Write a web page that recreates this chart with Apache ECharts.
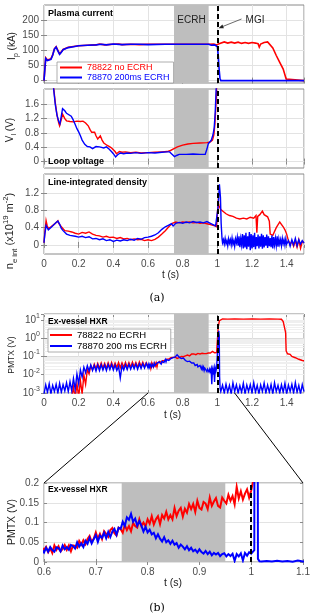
<!DOCTYPE html>
<html><head><meta charset="utf-8">
<script src="https://cdn.jsdelivr.net/npm/echarts@6/dist/echarts.min.js"></script>
<style>html,body{margin:0;padding:0;background:#fff}#c{width:315px;height:615px}</style>
</head><body><div id="c"></div>
<script>
// ---------- DATA ----------
const N_RED = '78822 no ECRH';
const N_BLUE_A = '78870 200ms ECRH';
const N_BLUE_B = '78870 200 ms ECRH';
const ecrhWindow = [0.75, 0.95];
const mgiTime = 1.0;

const ipTicks = [0, 50, 100, 150, 200];
const vlTicks = [0, 0.4, 0.8, 1.2, 1.6];
const neTicks = [0, 0.4, 0.8, 1.2];

// Plasma current (kA)
const ipRed = [[0,0],[0.005,40],[0.01,75],[0.02,68],[0.03,65],[0.04,72],[0.05,85],[0.06,105],[0.07,112],[0.08,100],[0.09,88],[0.1,95],[0.11,103],[0.12,106],[0.14,110],[0.17,113],[0.2,115],[0.25,117],[0.3,118],[0.32,121],[0.35,118],[0.4,120],[0.43,121],[0.45,119],[0.5,120],[0.55,119],[0.6,120],[0.7,120],[0.8,120],[0.9,120],[0.95,120],[0.98,121],[0.995,118],[1.0,112],[1.01,122],[1.02,127],[1.04,128],[1.06,124],[1.08,127],[1.1,124],[1.12,127],[1.14,123],[1.16,126],[1.18,123],[1.2,126],[1.22,124],[1.235,122],[1.242,111],[1.25,121],[1.27,126],[1.29,128],[1.30,131],[1.32,108],[1.34,83],[1.36,60],[1.38,38],[1.397,5],[1.40,0],[1.5,0]];
const ipBlue = [[0,0],[0.005,38],[0.01,73],[0.02,66],[0.03,64],[0.04,70],[0.05,84],[0.06,104],[0.07,111],[0.08,98],[0.09,87],[0.1,94],[0.11,102],[0.12,105],[0.14,109],[0.17,112],[0.2,115],[0.25,117],[0.3,118],[0.33,120],[0.36,118],[0.4,121],[0.45,119],[0.5,120],[0.55,120],[0.6,119],[0.7,120],[0.8,120],[0.9,120],[0.95,120],[0.965,117],[0.975,114],[0.985,118],[0.995,117],[1.0,112],[1.005,85],[1.01,40],[1.015,8],[1.02,0],[1.5,0]];

// Loop voltage (V)
const vlRed = [[0.03,3.2],[0.045,2.55],[0.055,2.1],[0.065,1.65],[0.075,1.3],[0.085,1.08],[0.09,1.0],[0.095,1.05],[0.1,1.18],[0.107,1.33],[0.113,1.3],[0.12,1.2],[0.13,1.14],[0.15,1.12],[0.17,1.11],[0.19,1.13],[0.21,1.12],[0.225,1.13],[0.24,1.08],[0.255,1.0],[0.265,0.9],[0.275,0.82],[0.285,0.78],[0.292,0.82],[0.3,0.72],[0.31,0.63],[0.318,0.68],[0.325,0.72],[0.335,0.6],[0.345,0.52],[0.355,0.49],[0.365,0.45],[0.378,0.42],[0.39,0.38],[0.4,0.33],[0.41,0.28],[0.418,0.22],[0.425,0.27],[0.435,0.28],[0.45,0.26],[0.47,0.27],[0.5,0.25],[0.53,0.26],[0.56,0.24],[0.6,0.25],[0.64,0.26],[0.68,0.27],[0.71,0.28],[0.73,0.31],[0.75,0.36],[0.77,0.41],[0.8,0.46],[0.83,0.49],[0.86,0.51],[0.9,0.52],[0.94,0.53],[0.96,0.55],[0.972,0.6],[0.98,0.75],[0.986,1.05],[0.99,1.4],[0.995,1.9],[1.0,2.6]];
const vlBlue = [[0.03,3.1],[0.045,2.5],[0.055,2.05],[0.065,1.6],[0.075,1.3],[0.085,1.12],[0.092,1.06],[0.1,1.28],[0.107,1.48],[0.112,1.5],[0.12,1.42],[0.13,1.35],[0.14,1.3],[0.157,1.27],[0.167,1.18],[0.177,1.07],[0.19,0.92],[0.2,0.83],[0.21,0.72],[0.22,0.6],[0.235,0.48],[0.25,0.42],[0.265,0.41],[0.28,0.36],[0.29,0.38],[0.3,0.42],[0.31,0.47],[0.32,0.41],[0.33,0.37],[0.345,0.38],[0.36,0.41],[0.375,0.35],[0.389,0.28],[0.4,0.22],[0.413,0.13],[0.425,0.19],[0.44,0.24],[0.46,0.22],[0.48,0.24],[0.5,0.23],[0.53,0.25],[0.56,0.23],[0.6,0.25],[0.64,0.24],[0.68,0.26],[0.71,0.27],[0.725,0.27],[0.74,0.2],[0.753,0.14],[0.765,0.17],[0.78,0.2],[0.82,0.2],[0.86,0.21],[0.9,0.2],[0.93,0.2],[0.94,0.35],[0.948,0.5],[0.965,0.6],[0.975,0.75],[0.982,0.95],[0.988,1.4],[0.993,2.0],[0.998,2.8]];

// Line-integrated density (1e19 m^-2)
const neRed = [[0,0.05],[0.005,0.3],[0.012,0.56],[0.018,0.45],[0.025,0.38],[0.03,0.35],[0.04,0.42],[0.05,0.45],[0.06,0.48],[0.07,0.52],[0.08,0.56],[0.085,0.5],[0.09,0.52],[0.1,0.42],[0.11,0.38],[0.12,0.33],[0.13,0.3],[0.14,0.32],[0.15,0.28],[0.16,0.3],[0.18,0.27],[0.2,0.25],[0.22,0.29],[0.24,0.27],[0.26,0.3],[0.28,0.25],[0.3,0.22],[0.32,0.21],[0.34,0.18],[0.36,0.2],[0.38,0.17],[0.4,0.18],[0.42,0.15],[0.44,0.17],[0.46,0.14],[0.48,0.15],[0.5,0.12],[0.52,0.14],[0.54,0.12],[0.56,0.13],[0.58,0.1],[0.6,0.12],[0.62,0.1],[0.64,0.13],[0.66,0.18],[0.68,0.25],[0.7,0.33],[0.72,0.42],[0.74,0.5],[0.76,0.53],[0.78,0.51],[0.8,0.53],[0.82,0.52],[0.84,0.53],[0.86,0.51],[0.88,0.52],[0.9,0.5],[0.92,0.51],[0.94,0.49],[0.96,0.47],[0.98,0.45],[0.995,0.42],[1.0,0.45],[1.005,0.98],[1.01,0.9],[1.02,0.82],[1.03,0.78],[1.05,0.72],[1.07,0.68],[1.09,0.66],[1.11,0.62],[1.13,0.6],[1.15,0.62],[1.17,0.6],[1.19,0.64],[1.21,0.62],[1.223,0.68],[1.228,0.28],[1.233,0.66],[1.245,0.7],[1.26,0.78],[1.27,0.7],[1.28,0.74],[1.29,0.65],[1.3,0.55],[1.305,0.25],[1.32,0.22],[1.34,0.4],[1.36,0.53],[1.37,0.5],[1.38,0.42],[1.39,0.35],[1.4,0.25],[1.41,0.1],[1.42,0.02],[1.43,0.08],[1.44,-0.03],[1.45,0.1],[1.46,-0.05],[1.47,0.12],[1.48,-0.08],[1.49,0.08],[1.5,0.05]];
const neBlue = [[0,0.05],[0.005,0.25],[0.012,0.45],[0.018,0.42],[0.025,0.35],[0.035,0.38],[0.045,0.42],[0.055,0.45],[0.065,0.5],[0.075,0.52],[0.08,0.55],[0.09,0.48],[0.1,0.38],[0.11,0.33],[0.12,0.3],[0.13,0.25],[0.14,0.27],[0.15,0.22],[0.16,0.24],[0.18,0.2],[0.2,0.18],[0.22,0.2],[0.24,0.17],[0.26,0.19],[0.28,0.14],[0.3,0.15],[0.32,0.12],[0.34,0.14],[0.36,0.1],[0.38,0.12],[0.4,0.08],[0.42,0.11],[0.44,0.09],[0.46,0.12],[0.48,0.1],[0.5,0.13],[0.52,0.11],[0.54,0.15],[0.56,0.13],[0.58,0.17],[0.6,0.18],[0.62,0.2],[0.64,0.23],[0.66,0.28],[0.68,0.36],[0.7,0.42],[0.72,0.46],[0.735,0.49],[0.745,0.44],[0.76,0.5],[0.78,0.52],[0.8,0.5],[0.82,0.53],[0.84,0.51],[0.86,0.54],[0.88,0.52],[0.9,0.53],[0.92,0.51],[0.94,0.54],[0.96,0.5],[0.975,0.47],[0.99,0.44],[1.0,0.43],[1.005,0.9],[1.012,1.4],[1.018,1.1],[1.022,0.5],[1.027,0.15],[1.03,0.05],[1.035,0.12],[1.04,0.02],[1.045,0.15],[1.05,0.03],[1.055,0.1],[1.06,-0.02],[1.065,0.14],[1.07,0.04],[1.075,0.12],[1.08,0.0],[1.085,0.16],[1.09,0.02],[1.095,0.1],[1.1,-0.03],[1.105,0.14],[1.11,0.05],[1.115,0.18],[1.12,-0.02],[1.125,0.2],[1.13,-0.05],[1.135,0.15],[1.14,0.0],[1.145,0.25],[1.15,-0.08],[1.155,0.22],[1.16,-0.06],[1.165,0.28],[1.17,-0.1],[1.175,0.2],[1.18,-0.04],[1.185,0.3],[1.19,-0.12],[1.195,0.25],[1.2,-0.08],[1.205,0.22],[1.21,-0.05],[1.215,0.28],[1.22,-0.1],[1.225,0.18],[1.23,-0.03],[1.235,0.24],[1.24,-0.08],[1.245,0.2],[1.25,-0.04],[1.255,0.26],[1.26,-0.09],[1.265,0.22],[1.27,-0.06],[1.275,0.18],[1.28,-0.02],[1.285,0.24],[1.29,-0.07],[1.295,0.2],[1.3,-0.03],[1.305,0.16],[1.31,-0.05],[1.315,0.22],[1.32,-0.08],[1.325,0.18],[1.33,0.0],[1.335,0.15],[1.34,-0.02],[1.345,0.2],[1.35,-0.04],[1.355,0.14],[1.36,0.02],[1.365,0.12],[1.37,-0.02],[1.375,0.15],[1.38,0.03],[1.385,0.12],[1.39,-0.01],[1.395,0.14],[1.4,0.02],[1.41,0.1],[1.42,-0.03],[1.43,0.12],[1.44,0.0],[1.45,0.15],[1.46,-0.02],[1.47,0.12],[1.48,0.02],[1.49,0.1],[1.5,0.04]];

// Ex-vessel HXR, PMTX (V): 0..0.6 every 0.01 s
const hxrRedEarly = [0.0004,0.0006,0.0004,0.0005,0.0004,0.0006,0.0004,0.0005,0.0004,0.0006,0.0004,0.0005,0.0004,0.0006,0.0004,0.0005,
 0.0006,0.0021,0.0005,0.0032,0.0006,0.0048,0.0009,0.0095,0.0030,0.019,0.011,0.031,0.019,0.038,0.021,0.041,0.022,0.044,0.023,0.042,0.022,0.045,0.024,0.046,0.023,0.044,0.025,0.047,0.024,0.045,0.026,0.048,0.025,0.046,0.026,0.049,0.027,0.047,0.026,0.050,0.028,0.048,0.027,0.046,0.030];
const hxrBlueEarly = [0.0009,0.0028,0.0011,0.0032,0.0009,0.0026,0.0012,0.0030,0.0010,0.0034,0.0011,0.0029,0.0013,0.0036,0.0012,0.0042,
 0.0013,0.0062,0.0016,0.011,0.0032,0.018,0.0075,0.026,0.013,0.031,0.016,0.034,0.017,0.032,0.016,0.034,0.017,0.035,0.018,0.034,0.017,0.036,0.019,0.036,0.018,0.034,0.017,0.029,0.0065,0.031,0.018,0.035,0.019,0.037,0.020,0.036,0.021,0.038,0.020,0.039,0.022,0.040,0.023,0.041,0.024];
// 0.604..1.000 every 0.004 s
const hxrRedMid = [0.038,0.025,0.035,0.023,0.042,0.031,0.040,0.027,0.033,0.043,
 0.031,0.042,0.027,0.042,0.041,0.036,0.053,0.044,0.055,0.045,
 0.058,0.066,0.051,0.059,0.075,0.059,0.071,0.058,0.078,0.071,
 0.064,0.081,0.086,0.073,0.067,0.087,0.083,0.074,0.094,0.081,
 0.091,0.078,0.099,0.091,0.087,0.108,0.091,0.100,0.090,0.108,
 0.097,0.116,0.095,0.108,0.116,0.096,0.119,0.110,0.127,0.108,
 0.119,0.108,0.137,0.116,0.130,0.137,0.115,0.135,0.125,0.147,
 0.134,0.147,0.127,0.155,0.137,0.133,0.152,0.148,0.134,0.163,
 0.142,0.153,0.162,0.142,0.138,0.163,0.155,0.148,0.170,0.155,
 0.167,0.146,0.190,0.161,0.179,0.158,0.173,0.184,0.163,0.181];
const hxrBlueMid = [0.036,0.026,0.038,0.030,0.026,0.037,0.035,0.027,0.042,0.032,
 0.038,0.031,0.043,0.040,0.034,0.050,0.039,0.047,0.038,0.054,
 0.046,0.061,0.047,0.058,0.068,0.051,0.067,0.061,0.074,0.060,
 0.076,0.063,0.077,0.084,0.069,0.087,0.084,0.102,0.091,0.113,
 0.107,0.122,0.102,0.110,0.092,0.103,0.092,0.077,0.089,0.075,
 0.082,0.070,0.074,0.060,0.070,0.059,0.052,0.063,0.050,0.055,
 0.046,0.054,0.044,0.048,0.036,0.044,0.039,0.032,0.040,0.030,
 0.036,0.027,0.031,0.024,0.032,0.025,0.021,0.028,0.020,0.026,
 0.017,0.023,0.019,0.023,0.015,0.020,0.022,0.014,0.020,0.015,
 0.021,0.003,0.020,0.014,0.022,0.004,0.023,0.016,0.025,0.021];
// after MGI
const hxrRedLate = [[1.003,0.2],[1.005,4],[1.008,3.2],[1.012,9],[1.016,11.2],[1.03,11.2],[1.06,11],[1.1,11.3],[1.15,11],[1.2,11.2],[1.25,11],[1.3,11.2],[1.35,11],[1.37,10.8],[1.38,8],[1.386,7],[1.39,9],[1.394,2],[1.397,0.2],[1.40,0.18],[1.405,0.14],[1.41,0.15],[1.415,0.12],[1.42,0.13],[1.43,0.1],[1.44,0.11],[1.45,0.085],[1.46,0.09],[1.47,0.07],[1.48,0.075],[1.49,0.06],[1.5,0.058]];
const hxrBlueJump = [[1.003,0.025],[1.006,0.03],[1.008,2.5],[1.011,1.4],[1.013,0.008],[1.016,0.0018]];
// 1.02..1.50 every 0.01 s
const hxrBlueTail = [0.0012,0.0027,0.0010,0.0030,0.0011,0.0026,0.0009,0.0036,0.0012,0.0028,
 0.0010,0.0025,0.0011,0.0034,0.0009,0.0027,0.0012,0.0029,0.0010,0.0037,
 0.0011,0.0026,0.0009,0.0028,0.0012,0.0035,0.0010,0.0027,0.0011,0.0029,
 0.0009,0.0036,0.0012,0.0026,0.0010,0.0028,0.0011,0.0034,0.0009,0.0027,
 0.0012,0.0030,0.0010,0.0037,0.0011,0.0026,0.0009,0.0029,0.0012];

// ---------- BUILD ----------
const rnd = v => Math.round(v * 1e6) / 1e6;
const seq = (t0, dt, vals) => vals.map((v, i) => [rnd(t0 + i * dt), v]);
const hxrRed = [...seq(0, 0.01, hxrRedEarly), ...seq(0.604, 0.004, hxrRedMid), ...hxrRedLate];
const hxrBlue = [...seq(0, 0.01, hxrBlueEarly), ...seq(0.604, 0.004, hxrBlueMid), ...hxrBlueJump, ...seq(1.02, 0.01, hxrBlueTail)];

const F = 'Liberation Sans';
const AXC = '#8a8a8a', LBL = '#4a4a4a', GRIDC = '#e3e3e3';
const RED = '#ff0000', BLUE = '#0000ff';

const grids = [
  {left:44, top:5, width:260, height:78},
  {left:44, top:89, width:260, height:79},
  {left:44, top:174, width:260, height:80},
  {left:44, top:314, width:260, height:79},
  {left:44, top:483, width:259, height:79}
].map(g => Object.assign(g, {show:true, borderColor:AXC, borderWidth:1, backgroundColor:'#fff'}));

const xAxes = [], yAxes = [];
function addX(g, min, max, interval, showLabels, fs) {
  const base = {gridIndex:g, type:'value', min, max, interval, axisLine:{show:false},
    axisTick:{inside:true, length:3, lineStyle:{color:AXC}}};
  xAxes.push(Object.assign({}, base, {position:'bottom',
    splitLine:{show:true, lineStyle:{color:GRIDC}},
    axisLabel:{show:showLabels, color:LBL, fontSize:fs, fontFamily:F, margin:5, showMaxLabel: max === 1.1}}));
  xAxes.push(Object.assign({}, base, {position:'top', splitLine:{show:false}, axisLabel:{show:false}}));
}
function addY(g, min, max, ticks, fs) {
  const base = {gridIndex:g, type:'value', min, max, axisLine:{show:false},
    axisTick:{inside:true, length:3, lineStyle:{color:AXC}, customValues:ticks}};
  yAxes.push(Object.assign({}, base, {position:'left',
    splitLine:{show:true, lineStyle:{color:GRIDC}},
    axisLabel:{color:LBL, fontSize:fs, fontFamily:F, margin:5, customValues:ticks}}));
  yAxes.push(Object.assign({}, base, {position:'right', splitLine:{show:false}, axisLabel:{show:false}}));
}
addX(0, 0, 1.5, 0.2, false, 10);
addX(1, 0, 1.5, 0.2, false, 10);
addX(2, 0, 1.5, 0.2, true, 10);
addX(3, 0, 1.5, 0.2, true, 10);
addX(4, 0.6, 1.1, 0.1, true, 10);
addY(0, -8, 250, ipTicks, 10);
addY(1, -0.18, 2.03, vlTicks, 10);
addY(2, -0.21, 1.64, neTicks, 10);
// log panel
const logLabel = v => {
  const l = Math.log10(v), e = Math.round(l);
  if (Math.abs(l - e) > 0.01) return '';
  return '{b|10}{p|' + e + '}';
};
const logBase = {gridIndex:3, type:'log', logBase:10, min:0.001, max:21, axisLine:{show:false},
  axisTick:{inside:true, length:3, lineStyle:{color:AXC}}};
yAxes.push(Object.assign({}, logBase, {position:'left', splitLine:{show:true, lineStyle:{color:'#dcdcdc'}},
  axisLabel:{color:LBL, fontFamily:F, margin:4, formatter:logLabel,
    rich:{b:{fontSize:10, fontFamily:F, color:LBL, lineHeight:15}, p:{fontSize:7, fontFamily:F, color:LBL, verticalAlign:'top', lineHeight:8}}}}));
yAxes.push(Object.assign({}, logBase, {position:'right', splitLine:{show:false}, axisLabel:{show:false}}));
// zoom panel
const zBase = {gridIndex:4, type:'value', min:0, max:0.2, interval:0.05, axisLine:{show:false},
  axisTick:{inside:true, length:3, lineStyle:{color:AXC}}};
yAxes.push(Object.assign({}, zBase, {position:'left', splitLine:{show:true, lineStyle:{color:GRIDC}},
  axisLabel:{color:LBL, fontSize:10, fontFamily:F, margin:5}}));
yAxes.push(Object.assign({}, zBase, {position:'right', splitLine:{show:false}, axisLabel:{show:false}}));

const series = [];
function line(name, color, data, g, z, w) {
  series.push({type:'line', name, data, xAxisIndex:2*g, yAxisIndex:2*g, showSymbol:false, symbol:'none',
    color, lineStyle:{color, width:w, join:'miter'}, z, silent:true, animation:false, clip:true});
}
function decor(g) {
  series.push({type:'line', name:'decor'+g, data:[], xAxisIndex:2*g, yAxisIndex:2*g, silent:true, animation:false,
    markArea:{silent:true, z:1, itemStyle:{color:'#bebebe'}, label:{show:false},
      data:[[{xAxis:ecrhWindow[0]},{xAxis:ecrhWindow[1]}]]},
    markLine:{silent:true, z:5, symbol:['none','none'], animation:false, label:{show:false},
      lineStyle:{color:'#000', type:[5,3], width:2}, data:[{xAxis:mgiTime}]}});
}
// minor log grid
const minorVals = [];
for (let d = -3; d <= 1; d++) for (let k = 2; k <= 9; k++) { const v = k * Math.pow(10, d); if (v < 21) minorVals.push(rnd(v)); }
series.push({type:'line', name:'minor', data:[], xAxisIndex:6, yAxisIndex:6, silent:true, animation:false,
  markLine:{silent:true, z:0.5, symbol:['none','none'], animation:false, label:{show:false},
    lineStyle:{color:'#efefef', type:'solid', width:1}, data:minorVals.map(v => ({yAxis:v}))}});

for (let g = 0; g < 5; g++) decor(g);
line(N_RED, RED, ipRed, 0, 2, 1.6);
line(N_BLUE_A, BLUE, ipBlue, 0, 3, 1.6);
line('r1', RED, vlRed, 1, 2, 1.4);
line('b1', BLUE, vlBlue, 1, 3, 1.4);
line('r2', RED, neRed, 2, 2, 1.4);
line('b2', BLUE, neBlue, 2, 3, 1.4);
line(N_RED, RED, hxrRed, 3, 2, 1.4);
line(N_BLUE_B, BLUE, hxrBlue, 3, 3, 1.4);
line('r4', RED, hxrRed, 4, 2, 2);
line('b4', BLUE, hxrBlue, 4, 3, 2);

const legendCommon = {orient:'vertical', icon:'rect', itemWidth:22, itemHeight:2, itemGap:1, selectedMode:false,
  backgroundColor:'#fff', borderColor:'#9a9a9a', borderWidth:0.8, borderRadius:0, z:6};
const legends = [
  Object.assign({}, legendCommon, {left:57, top:62, padding:[1,4,1,3],
    textStyle:{fontSize:9, fontFamily:F},
    data:[{name:N_RED, textStyle:{color:RED}}, {name:N_BLUE_A, textStyle:{color:BLUE}}]}),
  Object.assign({}, legendCommon, {left:48, top:329, padding:[1,4,1,2],
    textStyle:{fontSize:9.5, fontFamily:F, color:'#000'},
    data:[N_RED, N_BLUE_B]})
];

const chart = echarts.init(document.getElementById('c'), null, {renderer:'canvas', width:315, height:615});
chart.setOption({animation:false, backgroundColor:'#fff', grid:grids, xAxis:xAxes, yAxis:yAxes, series, legend:legends});

// ---------- annotations ----------
const T = (x, y, text, o) => Object.assign({type:'text', x, y, silent:true, z:50,
  style:Object.assign({text, fill:'#000', fontFamily:F, fontSize:10, align:'left', verticalAlign:'middle'}, o || {})});
const R = (x, y, text, rich, fs) => ({type:'text', x, y, rotation:Math.PI/2, silent:true, z:50,
  style:{text, rich, fill:'#222', fontFamily:F, fontSize:fs, align:'center', verticalAlign:'middle'}});
const rich = fs => ({b:{fontSize:fs, fontFamily:F, fill:'#222', color:'#222', lineHeight:fs+6},
  s:{fontSize:fs*0.7, fontFamily:F, color:'#222', verticalAlign:'bottom', lineHeight:fs*0.7},
  p:{fontSize:fs*0.7, fontFamily:F, color:'#222', verticalAlign:'top', lineHeight:fs*0.7}});
const bold = {fontWeight:'bold', fontSize:9};
const graphics = [
  T(48, 14, 'Plasma current', bold),
  T(48, 162, 'Loop voltage', bold),
  T(48, 183, 'Line-integrated density', bold),
  T(48, 322, 'Ex-vessel HXR', {fontWeight:'bold', fontSize:8.5}),
  T(48, 490, 'Ex-vessel HXR', {fontWeight:'bold', fontSize:8.5}),
  T(191.5, 20, 'ECRH', {align:'center', fill:'#222'}),
  T(255, 20, 'MGI', {align:'center', fill:'#222'}),
  {type:'line', silent:true, z:50, shape:{x1:241.5, y1:19, x2:221, y2:27.2}, style:{stroke:'#444', lineWidth:0.8}},
  {type:'polygon', silent:true, z:50, shape:{points:[[218.5,28.2],[223.9,28.15],[222.4,24.45]]}, style:{fill:'#222'}},
  R(12, 46, '{b|I}{s|p}{b| (kA)}', rich(10), 10),
  R(10, 130, '{b|V}{s|l}{b| (V)}', rich(10), 10),
  R(10, 231, '{b|n}{s|e int}{b| (x10}{p|19}{b| m}{p|-2}{b|)}', rich(11), 11),
  R(12, 355, '{b|PMTX (V)}', rich(8.5), 8.5),
  R(12, 522, '{b|PMTX (V)}', rich(10.5), 10.5),
  T(170.5, 275, 't (s)', {align:'center', fill:'#222'}),
  T(172.5, 415, 't (s)', {align:'center', fill:'#222'}),
  T(173, 583, 't (s)', {align:'center', fill:'#222', fontSize:10.5}),
  T(157, 298, '(a)', {align:'center', fontFamily:'DejaVu Serif', fontSize:11}),
  T(157, 608, '(b)', {align:'center', fontFamily:'DejaVu Serif', fontSize:11})
];
const pA = chart.convertToPixel({xAxisIndex:6, yAxisIndex:6}, [0.6, 0.001]);
const pB = chart.convertToPixel({xAxisIndex:6, yAxisIndex:6}, [1.1, 0.001]);
const pC = chart.convertToPixel({xAxisIndex:8, yAxisIndex:8}, [0.6, 0.2]);
const pD = chart.convertToPixel({xAxisIndex:8, yAxisIndex:8}, [1.1, 0.2]);
graphics.push({type:'line', silent:true, z:50, shape:{x1:pA[0], y1:pA[1], x2:pC[0], y2:pC[1]}, style:{stroke:'#000', lineWidth:1}});
graphics.push({type:'line', silent:true, z:50, shape:{x1:pB[0], y1:pB[1], x2:pD[0], y2:pD[1]}, style:{stroke:'#000', lineWidth:1}});
chart.setOption({graphic:graphics});
</script></body></html>
